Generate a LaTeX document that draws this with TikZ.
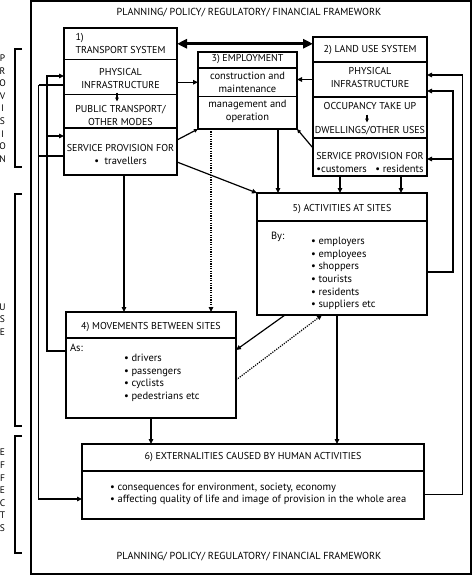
\documentclass[tikz,border=0pt]{standalone}
\usepackage{fontspec}
\setmainfont{PT Sans}
\usetikzlibrary{arrows.meta}
\newcommand\lcfont{\fontsize{10.5}{13}\selectfont}
\begin{document}
\begin{tikzpicture}[x=1pt,y=-1pt,
  every node/.style={inner sep=0pt,outer sep=0pt},
  txt/.style={font=\fontsize{10}{13}\selectfont,align=center},
  lctxt/.style={font=\fontsize{10.5}{13}\selectfont,align=center},
  fw/.style={font=\fontsize{10.2}{12}\selectfont},
  lst/.style={font=\fontsize{10.5}{12.6}\selectfont,align=left,anchor=west},
  side/.style={font=\fontsize{9.5}{12.6}\selectfont,align=center},
  row/.style={draw,line width=1.8pt},
  conn/.style={line width=1.2pt},
  arr/.style={line width=1.2pt,-{Triangle[length=5pt,width=4.5pt]}},
  dotarr/.style={line width=1.2pt,dash pattern=on 1.2pt off 1.2pt,-{Triangle[length=5pt,width=4.5pt]}},
  bigarr/.style={line width=2.6pt,{Triangle[length=10pt,width=9pt]}-{Triangle[length=10pt,width=9pt]}},
  bracket/.style={line width=1.5pt}]
\useasboundingbox (0,0) rectangle (474,576);
% outer frame
\node[draw,line width=2.2pt,minimum width=440pt,minimum height=573pt] (frame) at (251,287.5) {};
\node[fw] (ptop) at (249,13) {PLANNING/ POLICY/ REGULATORY/ FINANCIAL FRAMEWORK};
\node[fw] (pbot) at (249,557) {PLANNING/ POLICY/ REGULATORY/ FINANCIAL FRAMEWORK};
% side labels
\node[side] (sprov) at (2.5,108.5) {P\\R\\O\\V\\I\\S\\I\\O\\N};
\node[side] (suse) at (2.5,319.5) {U\\S\\E};
\node[side] (seff) at (2.5,490.5) {E\\F\\F\\E\\C\\T\\S};
\draw[bracket] (22,49) -- (15,49) -- (15,167) -- (22,167);
\draw[bracket] (22,194) -- (15,194) -- (15,426) -- (22,426);
\draw[bracket] (22,436) -- (15,436) -- (15,553) -- (22,553);
% box 1
\node[row,minimum width=113pt,minimum height=31.5pt] (b1t) at (120.5,43.75) {};
\node[row,minimum width=113pt,minimum height=35pt] (b1p) at (120.5,77) {};
\node[row,minimum width=113pt,minimum height=33.5pt] (b1m) at (120.5,111.25) {};
\node[row,minimum width=113pt,minimum height=47pt] (b1s) at (120.5,151.5) {};
\node[txt,align=left] (t1t) at (120.5,43) {1)\\TRANSPORT SYSTEM};
\node[txt] (t1p) at (120.5,78) {PHYSICAL\\INFRASTRUCTURE};
\node[txt] (t1m) at (120.5,115) {PUBLIC TRANSPORT/\\OTHER MODES};
\node[txt] (t1s) at (120.5,154.5) {SERVICE PROVISION FOR\\{\lcfont\textbullet\ \ travellers}};
% box 3
\node[row,minimum width=99pt,minimum height=16pt] (b3t) at (247.5,60) {};
\node[row,minimum width=99pt,minimum height=28.5pt] (b3c) at (247.5,82.25) {};
\node[row,minimum width=99pt,minimum height=32.5pt] (b3m) at (247.5,112.75) {};
\node[txt] (t3t) at (247.5,59.5) {3) EMPLOYMENT};
\node[lctxt] (t3c) at (247.5,82.5) {construction and\\maintenance};
\node[lctxt] (t3m) at (247.5,111) {management and\\operation};
% box 2
\node[row,minimum width=114pt,minimum height=25pt] (b2t) at (370,49.5) {};
\node[row,minimum width=114pt,minimum height=35pt] (b2p) at (370,79.5) {};
\node[row,minimum width=114pt,minimum height=41pt] (b2o) at (370,117.5) {};
\node[row,minimum width=114pt,minimum height=38pt] (b2s) at (370,157) {};
\node[txt] (t2t) at (370,50.5) {2) LAND USE SYSTEM};
\node[txt] (t2p) at (370,77.5) {PHYSICAL\\INFRASTRUCTURE};
\node[txt] (t2o1) at (370,106) {OCCUPANCY TAKE UP};
\node[txt] (t2o2) at (370,131) {DWELLINGS/OTHER USES};
\node[txt] (t2s) at (370,162.5) {SERVICE PROVISION FOR\\{\lcfont\textbullet customers\ \ \ \textbullet\ residents}};
% box 5
\node[row,minimum width=170pt,minimum height=28pt] (b5t) at (342,207) {};
\node[row,minimum width=170pt,minimum height=94pt] (b5b) at (342,268) {};
\node[txt] (t5t) at (342,209) {5) ACTIVITIES AT SITES};
\node[lst] (t5by) at (271,237) {By:};
\node[lst] (t5l) at (311,273.5) {\textbullet\ employers\\\textbullet\ employees\\\textbullet\ shoppers\\\textbullet\ tourists\\\textbullet\ residents\\\textbullet\ suppliers etc};
% box 4
\node[row,minimum width=170pt,minimum height=26pt] (b4t) at (151,325) {};
\node[row,minimum width=170pt,minimum height=80pt] (b4b) at (151,378) {};
\node[txt] (t4t) at (151,327) {4) MOVEMENTS BETWEEN SITES};
\node[lst] (t4as) at (70,348) {As:};
\node[lst] (t4l) at (124,378) {\textbullet\ drivers\\\textbullet\ passengers\\\textbullet\ cyclists\\\textbullet\ pedestrians etc};
% box 6
\node[row,minimum width=342pt,minimum height=27pt] (b6t) at (253,457.5) {};
\node[row,minimum width=342pt,minimum height=48pt] (b6b) at (253,495) {};
\node[txt] (t6t) at (253,457) {6) EXTERNALITIES CAUSED BY HUMAN ACTIVITIES};
\node[lst] (t6l) at (110,494) {\textbullet\ consequences for environment, society, economy\\\textbullet\ affecting quality of life and image of provision in the whole area};
% bus coordinates
\coordinate (L1b) at (47,351);
\coordinate (L1t) at (47,76);
\coordinate (L1m) at (47,136);
\coordinate (L2t) at (38.5,85);
\coordinate (L2m) at (38.5,156);
\coordinate (L2b) at (38.5,499);
\coordinate (R1b) at (453,272);
\coordinate (R1t) at (453,91);
\coordinate (R1m) at (453,159);
\coordinate (R2b) at (462.5,494.5);
\coordinate (R2t) at (462.5,75);
% connectors
\draw[bigarr] (b1t.east) -- (b1t.east -| b2t.west);
\draw[arr] (b3c.west -| b1p.east) -- (b3c.west);
\draw[arr] (b2p.west) -- (b2p.west -| b3c.east);
\draw[arr,-{Triangle[length=4pt,width=3.5pt]}] ([xshift=-3.5pt,yshift=2pt]b1p.south) -- ([xshift=-3.5pt,yshift=-7pt]b1p.south);
\draw[arr,-{Triangle[length=4pt,width=3.5pt]}] ([xshift=-3pt,yshift=3pt]b2o.center) -- ([xshift=-3pt,yshift=-5pt]b2o.center);
\draw[arr,-{Triangle[length=4pt,width=3.5pt]}] ([yshift=11.5pt]b1s.east) -- (b3m.south west);
\draw[arr,-{Triangle[length=4pt,width=3.5pt]}] ([yshift=9pt]b2s.west) -- (b3m.south east);
\draw[arr] ([yshift=-10.5pt]b1s.east) -- (b5t.north west);
\draw[arr] ([xshift=30.5pt]b3m.south) -- ([xshift=30.5pt]b3m.south |- b5t.north);
\draw[arr] ([xshift=-30pt]b2s.south) -- ([xshift=-30pt]b2s.south |- b5t.north);
\draw[arr] ([xshift=31pt]b2s.south) -- ([xshift=31pt]b2s.south |- b5t.north);
\draw[arr] ([xshift=3.5pt]b1s.south) -- ([xshift=3.5pt]b1s.south |- b4t.north);
\draw[dotarr] ([xshift=-36.5pt]b3m.south) -- ([xshift=-36.5pt]b3m.south |- b4t.north);
\draw[arr] ([xshift=28pt]b5b.south west) -- ([yshift=-12pt]b4b.north east);
\draw[dotarr] ([yshift=-42pt]b4b.north east) -- ([xshift=65pt]b5b.south west);
\draw[arr] (b4b.south) -- (b4b.south |- b6t.north);
\draw[arr] ([xshift=-5pt]b5b.south) -- ([xshift=-5pt]b5b.south |- b6t.north);
% right feedback
\draw[arr] (R1b -| b5b.east) -- (R1b) -- (R1t) -- (R1t -| b2p.east);
\draw[arr] (R1m) -- (R1m -| b2s.east);
\draw[arr] (R2b -| b6b.east) -- (R2b) -- (R2t) -- (R2t -| b2p.east);
% left feedback
\draw[arr] ([yshift=-13pt]b4b.north west) -- (L1b) -- (L1t) -- (L1t -| b1p.west);
\draw[arr] (L1m) -- (L1m -| b1s.west);
\draw[conn] (L2t -| b1p.west) -- (L2t);
\draw[conn] (L2m -| b1s.west) -- (L2m);
\draw[arr] (L2t) -- (L2b) -- (L2b -| b6b.west);
\end{tikzpicture}
\end{document}
